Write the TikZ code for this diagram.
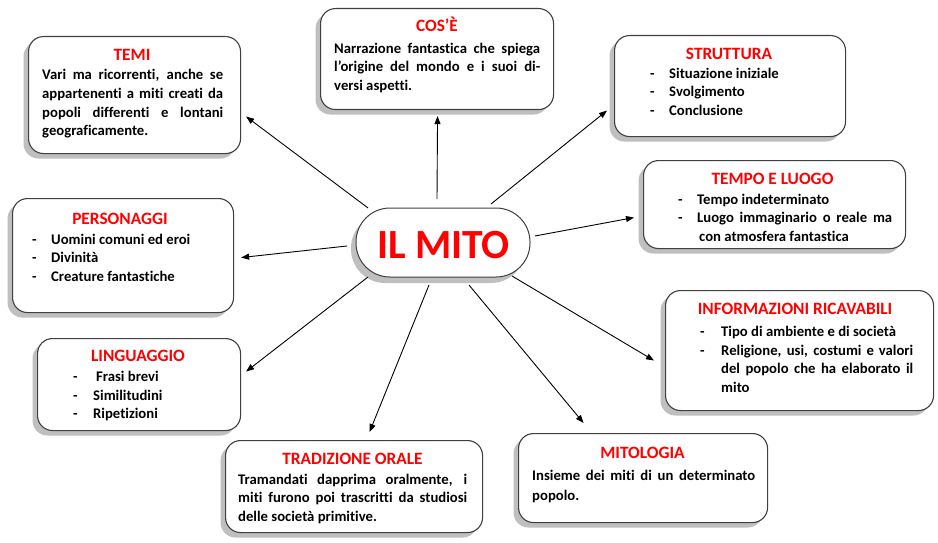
\documentclass[tikz,border=0pt]{standalone}
\usepackage{fontspec}
\setmainfont{Carlito}[Ligatures=NoCommon]
\usetikzlibrary{arrows.meta,shadows,calc}
\definecolor{boxline}{HTML}{404040}
\definecolor{shadowgray}{HTML}{BFBFBF}
\definecolor{titlered}{HTML}{FF0000}
\newcommand{\jl}[2]{\hbox{\makebox[#1pt][s]{#2}}}
\newcommand{\pl}[1]{\hbox{#1}}
\newcommand{\li}[1]{\hbox{\makebox[19pt][l]{-}#1}}
\begin{document}
\begin{tikzpicture}[x=1pt,y=-1pt,
  box/.style={draw=boxline, line width=1.1pt, rounded corners=15pt, fill=white,
    inner sep=0pt, anchor=north west,
    drop shadow={shadow xshift=-5pt, shadow yshift=-5pt, fill=shadowgray, opacity=1}},
  mitobox/.style={draw=boxline, line width=1pt, rounded corners=34pt, fill=white,
    inner sep=0pt, minimum width=174pt, minimum height=69pt,
    drop shadow={shadow xshift=-5pt, shadow yshift=-6pt, fill=shadowgray, opacity=1}},
  ttl/.style={font=\fontsize{17.3pt}{20pt}\selectfont\bfseries, text=titlered, inner sep=0pt, anchor=base},
  body/.style={font=\fontsize{14.7pt}{18.6pt}\selectfont\bfseries, inner sep=0pt, anchor=base west},
  mitotxt/.style={font=\fontsize{41.5pt}{48pt}\selectfont\bfseries, text=titlered, inner sep=0pt, anchor=base},
  arr/.style={draw=black, line width=0.9pt, -{Triangle[length=8pt,width=6pt]}}]
\useasboundingbox (0,0) rectangle (938,543);
\fill[white] (0,0) rectangle (938,543);

% boxes
\node[box, minimum width=212pt, minimum height=117pt] (temi) at (28,36) {};
\node[box, minimum width=233pt, minimum height=101pt] (cose) at (320,8) {};
\node[box, minimum width=231pt, minimum height=101pt] (strut) at (614,35) {};
\node[box, minimum width=262pt, minimum height=88pt] (tempo) at (643,160) {};
\node[box, minimum width=221pt, minimum height=114pt] (pers) at (12,198) {};
\node[box, minimum width=268pt, minimum height=120pt] (info) at (665,290) {};
\node[box, minimum width=203pt, minimum height=92pt] (ling) at (37,338) {};
\node[box, minimum width=257pt, minimum height=92pt] (trad) at (225,440) {};
\node[box, minimum width=249pt, minimum height=89pt] (mitol) at (518,433) {};
\node[mitobox] (mito) at (443,242.5) {};

% texts
\node[mitotxt] (mitot) at (443.5,258.3) {IL MITO};

\node[ttl] (temit) at (132,60.5) {TEMI};
\node[body] (temib) at (42,80) {\vtop{\jl{181}{Vari ma ricorrenti, anche se}\jl{181}{appartenenti a miti creati da}\jl{181}{popoli differenti e lontani}\pl{geograficamente.}}};

\node[ttl] (coset) at (437,31.7) {COS’È};
\node[body] (coseb) at (334,53.3) {\vtop{\jl{206}{Narrazione fantastica che spiega}\jl{206}{l’origine del mondo e i suoi di-}\pl{versi aspetti.}}};

\node[ttl] (strutt) at (729,59.3) {STRUTTURA};
\node[body] (strutb) at (650,78.3) {\vtop{\li{Situazione iniziale}\li{Svolgimento}\li{Conclusione}}};

\node[ttl] (tempot) at (772.5,184) {TEMPO E LUOGO};
\node[body] (tempob) at (678,204) {\vtop{\li{Tempo indeterminato}\hbox{\makebox[19pt][l]{-}\makebox[195pt][s]{Luogo immaginario o reale ma}}\hbox{\hspace{21pt}con atmosfera fantastica}}};

\node[ttl] (perst) at (120,224) {PERSONAGGI};
\node[body] (persb) at (32,244) {\vtop{\li{Uomini comuni ed eroi}\li{Divinità}\li{Creature fantastiche}}};

\node[ttl] (infot) at (795,314.3) {INFORMAZIONI RICAVABILI};
\node[body] (infob) at (700,336.7) {\vtop{\hbox{\makebox[21pt][l]{-}Tipo di ambiente e di società}\hbox{\makebox[21pt][l]{-}\makebox[192pt][s]{Religione, usi, costumi e valori}}\hbox{\hspace{21pt}\makebox[192pt][s]{del popolo che ha elaborato il}}\hbox{\hspace{21pt}mito}}};

\node[ttl] (lingt) at (138,361) {LINGUAGGIO};
\node[body] (lingb) at (73,381.7) {\vtop{\hbox{\makebox[23pt][l]{-}Frasi brevi}\hbox{\makebox[20pt][l]{-}Similitudini}\hbox{\makebox[20pt][l]{-}Ripetizioni}}};

\node[ttl] (tradt) at (352.5,464) {TRADIZIONE ORALE};
\node[body] (tradb) at (238,484.3) {\vtop{\jl{229}{Tramandati dapprima oralmente, i}\jl{229}{miti furono poi trascritti da studiosi}\pl{delle società primitive.}}};

\node[ttl] (mitolt) at (642.5,458.3) {MITOLOGIA};
\node[body, font=\fontsize{14.7pt}{20pt}\selectfont\bfseries] (mitolb) at (532,480) {\vtop{\jl{223}{Insieme dei miti di un determinato}\pl{popolo.}}};

% connectors
\draw[arr] ([shift={(-75,-34.5)}]mito.center) -- ([shift={(5,21.5)}]temi.east);
\draw[arr] ([shift={(-6,-43.5)}]mito.center) -- ([shift={(0.5,6)}]cose.south);
\draw[arr] ([shift={(48,-38.5)}]mito.center) -- ([shift={(-7,24.5)}]strut.west);
\draw[arr] ([shift={(92,-6.5)}]mito.center) -- ([shift={(-9,13)}]tempo.west);
\draw[arr] ([shift={(-96,3.5)}]mito.center) -- ([shift={(7,2)}]pers.east);
\draw[arr] ([shift={(-75,34.5)}]mito.center) -- ([shift={(5,-13)}]ling.east);
\draw[arr] ([shift={(-14,42.5)}]mito.center) -- ([shift={(15.5,-8)}]trad.north);
\draw[arr] ([shift={(26,42.5)}]mito.center) -- ([shift={(-59.5,-10)}]mitol.north);
\draw[arr] ([shift={(69,33.5)}]mito.center) -- ([shift={(-11,10)}]info.west);
\end{tikzpicture}
\end{document}
